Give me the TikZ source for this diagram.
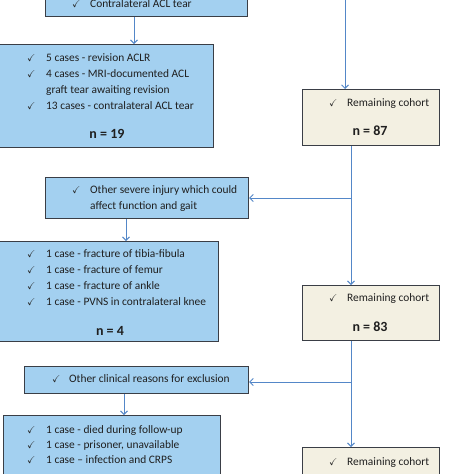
\documentclass[tikz,border=0pt]{standalone}
\usepackage{fontspec}
\setmainfont{Carlito}
\usepackage{amssymb}
\usetikzlibrary{arrows.meta}
\definecolor{boxblue}{RGB}{163,208,240}
\definecolor{boxtan}{RGB}{243,240,226}
\definecolor{edgecol}{RGB}{58,62,70}
\definecolor{conncol}{RGB}{84,135,200}
\tikzset{
  boxbase/.style 2 args={draw=edgecol, line width=1.2pt, anchor=north west, inner sep=0pt, minimum width=#1, minimum height=#2},
  bluebox/.style 2 args={boxbase={#1}{#2}, fill=boxblue},
  tanbox/.style 2 args={boxbase={#1}{#2}, fill=boxtan},
  txt/.style={anchor=base west, inner sep=0pt, text=black!88, font=\fontsize{11.4}{13}\selectfont},
  chk/.style={anchor=base west, inner sep=0pt, text=black!85, font=\fontsize{10}{11}\selectfont},
  num/.style={anchor=base, inner sep=0pt, text=black!88, font=\bfseries\fontsize{14}{16}\selectfont},
  arr/.style={draw=conncol, line width=0.9pt, -{Straight Barb[length=3.5pt,width=7pt]}},
  ln/.style={draw=conncol, line width=0.9pt}
}
\begin{document}
\begin{tikzpicture}[x=1pt,y=-1pt]
\clip (0,0) rectangle (474,474);
\fill[white] (0,0) rectangle (474,474);
% boxes
\node[bluebox={202pt}{46pt}] (top) at (45,-30) {};
\node[bluebox={214pt}{103pt}] (b19) at (-1,44) {};
\node[tanbox={137pt}{56pt}] (r87) at (302,89) {};
\node[bluebox={203pt}{41pt}] (sev) at (45,177) {};
\node[bluebox={219pt}{100pt}] (b4) at (-1,241) {};
\node[tanbox={137pt}{55pt}] (r83) at (302,285) {};
\node[bluebox={224pt}{27pt}] (cli) at (24,366) {};
\node[bluebox={217pt}{80pt}] (blast) at (3,415) {};
\node[tanbox={137pt}{50pt}] (rlast) at (302,447) {};
% texts
\node[chk] (c0) at (72,7) {\checkmark};
\node[txt] (t0) at (90,7) {Contralateral ACL tear};

\node[chk] (c1a) at (27,61) {\checkmark};
\node[txt] (t1a) at (46,61) {5 cases - revision ACLR};
\node[chk] (c1b) at (27,77) {\checkmark};
\node[txt] (t1b) at (46,77) {4 cases - MRI-documented ACL};
\node[txt] (t1c) at (46,93) {graft tear awaiting revision};
\node[chk] (c1d) at (27,109) {\checkmark};
\node[txt] (t1d) at (46,109) {13 cases - contralateral ACL tear};
\node[num] (n19) at (107,138) {n = 19};

\node[chk] (c2) at (329,106) {\checkmark};
\node[txt] (t2) at (347,106) {Remaining cohort};
\node[num] (n87) at (370,135) {n = 87};

\node[chk] (c3) at (72,193) {\checkmark};
\node[txt] (t3a) at (90,193) {Other severe injury which could};
\node[txt] (t3b) at (90,209) {affect function and gait};

\node[chk] (c4a) at (27,257) {\checkmark};
\node[txt] (t4a) at (46,257) {1 case - fracture of tibia-fibula};
\node[chk] (c4b) at (27,273) {\checkmark};
\node[txt] (t4b) at (46,273) {1 case - fracture of femur};
\node[chk] (c4c) at (27,289) {\checkmark};
\node[txt] (t4c) at (46,289) {1 case - fracture of ankle};
\node[chk] (c4d) at (27,305) {\checkmark};
\node[txt] (t4d) at (46,305) {1 case - PVNS in contralateral knee};
\node[num] (n4) at (110,335) {n = 4};

\node[chk] (c5) at (329,301) {\checkmark};
\node[txt] (t5) at (347,301) {Remaining cohort};
\node[num] (n83) at (370,331) {n = 83};

\node[chk] (c6) at (52,382) {\checkmark};
\node[txt] (t6) at (69,382) {Other clinical reasons for exclusion};

\node[chk] (c7a) at (27,433) {\checkmark};
\node[txt] (t7a) at (46,433) {1 case - died during follow-up};
\node[chk] (c7b) at (27,448) {\checkmark};
\node[txt] (t7b) at (46,448) {1 case - prisoner, unavailable};
\node[chk] (c7c) at (27,463) {\checkmark};
\node[txt] (t7c) at (46,463) {1 case -- infection and CRPS};

\node[chk] (c8) at (329,465) {\checkmark};
\node[txt] (t8) at (347,465) {Remaining cohort};
% connectors
\coordinate (x1) at (134,0);
\draw[arr] (top.south -| x1) -- (b19.north -| x1);
\coordinate (mtop) at (345,-5);
\draw[arr] (mtop) -- (r87.north -| mtop);
\coordinate (m1) at (351,0);
\draw[arr] (r87.south -| m1) -- (r83.north -| m1);
\coordinate (br1) at (351,198);
\draw[arr] (br1) -- (br1 -| sev.east);
\coordinate (x2) at (126,0);
\draw[arr] (sev.south -| x2) -- (b4.north -| x2);
\draw[arr] (r83.south -| m1) -- (rlast.north -| m1);
\coordinate (br2) at (351,382);
\draw[arr] (br2) -- (br2 -| cli.east);
\coordinate (x3) at (124,0);
\draw[arr] (cli.south -| x3) -- (blast.north -| x3);
\end{tikzpicture}
\end{document}
